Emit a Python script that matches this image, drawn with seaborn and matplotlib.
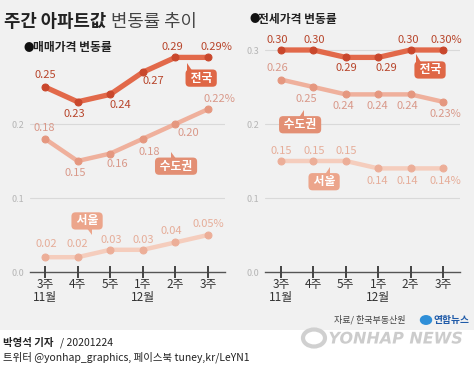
import matplotlib
matplotlib.use("Agg")
import matplotlib.pyplot as plt
import matplotlib.patheffects as pe
from matplotlib.patches import Polygon
from matplotlib.transforms import IdentityTransform
import seaborn as sns
import numpy as np

# ---------------- data ----------------
weeks = ["3주\n11월", "4주", "5주", "1주\n12월", "2주", "3주"]
sale_nation = [0.25, 0.23, 0.24, 0.27, 0.29, 0.29]
sale_capital = [0.18, 0.15, 0.16, 0.18, 0.20, 0.22]
sale_seoul = [0.02, 0.02, 0.03, 0.03, 0.04, 0.05]
jeonse_nation = [0.30, 0.30, 0.29, 0.29, 0.30, 0.30]
jeonse_capital = [0.26, 0.25, 0.24, 0.24, 0.24, 0.23]
jeonse_seoul = [0.15, 0.15, 0.15, 0.14, 0.14, 0.14]
series_names = ["전국", "수도권", "서울"]

# ---------------- style ----------------
sns.set_theme(style="white")
plt.rcParams["font.family"] = ["Noto Sans CJK KR", "DejaVu Sans"]
plt.rcParams["axes.axisbelow"] = False

BG = "#f1f1f1"
C_LINE = ["#e2694a", "#efb09c", "#f5cdbd"]
C_MARK = ["#c9472c", "#e5977f", "#ecae98"]
C_TEXT = ["#b8462c", "#d9998a", "#e6ad99"]
C_BOX = ["#df6746", "#e38f74", "#eca58b"]
LW = [3.8, 3.2, 3.2]

W, H = 474, 366
fig = plt.figure(figsize=(W / 100, H / 100), dpi=100)
fig.patch.set_facecolor("white")
fig.add_artist(plt.Rectangle((0, 1 - 330 / H), 1, 330 / H, transform=fig.transFigure,
                             facecolor=BG, edgecolor="none", zorder=-5))

def px_axes(x0, x1, ybottom, ytop):
    return fig.add_axes([x0 / W, 1 - ybottom / H, (x1 - x0) / W, (ybottom - ytop) / H])

YMAX = (272 - 27.8) / 740.0

def setup(ax, first_px, step_px, x0px, x1px, yticks):
    ax.set_facecolor("none")
    lo = -(first_px - x0px) / step_px
    hi = 5 + (x1px - (first_px + 5 * step_px)) / step_px
    ax.set_xlim(lo, hi)
    ax.set_ylim(0, YMAX)
    for s in ["top", "right", "left"]:
        ax.spines[s].set_visible(False)
    ax.spines["bottom"].set_color("#555555")
    ax.spines["bottom"].set_linewidth(1.0)
    ax.set_xticks(range(len(weeks)))
    ax.set_xticklabels(weeks, fontsize=8.5, color="#333333", linespacing=1.0)
    ax.tick_params(axis="x", bottom=True, direction="inout", length=8, width=1.4,
                   color="#444444", pad=0)
    ax.set_yticks(yticks)
    ax.set_yticklabels([f"{v:.1f}" for v in yticks], fontsize=6.5, color="#b5b5b5")
    ax.tick_params(axis="y", left=False, length=0, pad=4)
    for v in yticks:
        if v > 0:
            ax.axhline(v, color="#d9d9d9", lw=0.8, zorder=1)
    ax.set_xlabel("")
    ax.set_ylabel("")

def draw(ax, vals, k, offs):
    x = np.arange(len(vals))
    sns.lineplot(x=x, y=vals, ax=ax, color=C_LINE[k], lw=LW[k], marker="o", markersize=5,
                 markerfacecolor=C_MARK[k], markeredgecolor=C_MARK[k], zorder=3 + (3 - k),
                 solid_capstyle="round")
    for i, v in enumerate(vals):
        dx, dy = offs[i]
        txt = f"{v:.2f}" + ("%" if i == len(vals) - 1 else "")
        ax.annotate(txt, (i, v), xytext=(dx, dy), textcoords="offset pixels",
                    ha="center", va="center", fontsize=8, color=C_TEXT[k], zorder=8)

def callout(ax, k, center, tip, side):
    ax.text(center[0], center[1], f" {series_names[k]} ", ha="center", va="center",
            fontsize=8.5, fontweight="bold", color="white", zorder=10,
            bbox=dict(boxstyle="round,pad=0.18,rounding_size=0.35", fc=C_BOX[k], ec="none"))
    cx, cy = ax.transData.transform(center)
    tx, ty = ax.transData.transform(tip)
    ey = cy + 6 if ty > cy else cy - 6
    verts = [(tx, ty), (tx, ey), (tx + side * 6, ey)]
    fig.add_artist(Polygon(verts, closed=True, fc=C_BOX[k], ec="none",
                           transform=IdentityTransform(), zorder=9))

# ---------------- left panel ----------------
axL = px_axes(30, 225, 272, 27.8)
draw(axL, sale_nation, 0, [(0, 12), (-3, -12), (10, -11), (11, -9), (-3, 10), (8, 10)])
draw(axL, sale_capital, 1, [(-1, 11), (-2, -12), (7, -10), (6, -13), (13, -9), (11, 10)])
draw(axL, sale_seoul, 2, [(1, 13), (0, 13), (1, 10), (0, 10), (-4, 11), (0, 11)])
setup(axL, 45, 32.6, 30, 225, [0.0, 0.1, 0.2])
fig.canvas.draw()
callout(axL, 0, (4.79, 0.262), (4.36, 0.283), 1)
callout(axL, 1, (4.02, 0.143), (3.87, 0.162), 1)
callout(axL, 2, (1.29, 0.069), (1.45, 0.050), -1)

# ---------------- right panel ----------------
axR = px_axes(265, 460, 272, 27.8)
draw(axR, jeonse_nation, 0, [(-4, 10), (1, 10), (1, -11), (8, -11), (-2, 10), (3, 10)])
draw(axR, jeonse_capital, 1, [(-4, 12), (-7, -12), (-2, -12), (-1, -12), (-3, -12), (2, -12)])
draw(axR, jeonse_seoul, 2, [(0, 10), (1, 10), (0, 10), (-1, -13), (-3, -13), (2, -13)])
setup(axR, 281, 32.4, 265, 460, [0.0, 0.1, 0.2, 0.3])
fig.canvas.draw()
callout(axR, 0, (4.6, 0.273), (4.18, 0.294), 1)
callout(axR, 1, (0.59, 0.199), (0.70, 0.219), -1)
callout(axR, 2, (1.33, 0.122), (1.52, 0.142), -1)

# ---------------- titles ----------------
def ftext(xpx, ypx, s, **kw):
    return fig.text(xpx / W, 1 - ypx / H, s, **kw)

t1 = ftext(4, 22, "주간 아파트값", fontsize=12.8, fontweight="bold", color="#222222", va="center")
fig.canvas.draw()
bb = t1.get_window_extent()
ftext(bb.x1 + 5, 22, "변동률 추이", fontsize=12.8, color="#444444", va="center")

ftext(24, 48, "●", fontsize=7.5, color="#111111", va="center")
ftext(33, 48, "매매가격 변동률", fontsize=8.5, fontweight="bold", color="#222222", va="center")
ftext(249, 19, "●", fontsize=7.5, color="#111111", va="center")
ftext(258, 19, "전세가격 변동률", fontsize=8.5, fontweight="bold", color="#222222", va="center")

# ---------------- footer ----------------
ftext(370, 320, "자료/ 한국부동산원", fontsize=6.5, color="#444444", va="center", ha="center")
fig.add_artist(plt.Circle((426 / W, 1 - 320 / H), 5.5 / W, transform=fig.transFigure,
                          color="#2f8fd8", zorder=5))
ftext(433, 320, "연합뉴스", fontsize=7, fontweight="bold", color="#1f5aa8", va="center")

wm = ftext(463, 339, "YONHAP NEWS", fontsize=11.5, fontweight="bold", fontstyle="italic",
           color="#cccccc", va="center", ha="right", family=["DejaVu Sans"])
wm.set_path_effects([pe.withStroke(linewidth=2, foreground="#ffffff")])
fig.add_artist(plt.Circle((314 / W, 1 - 338 / H), 11 / W, transform=fig.transFigure,
                          fc="none", ec="#d0d0d0", lw=3, zorder=5))

ftext(3, 343, "박영석 기자", fontsize=7.5, fontweight="bold", color="#222222", va="center")
ftext(60, 343, "/ 20201224", fontsize=7.5, color="#222222", va="center")
ftext(3, 357, "트위터 @yonhap_graphics, 페이스북 tuney,kr/LeYN1", fontsize=7.5,
      color="#222222", va="center")

fig.savefig("out.png", dpi=100, facecolor=fig.get_facecolor())
